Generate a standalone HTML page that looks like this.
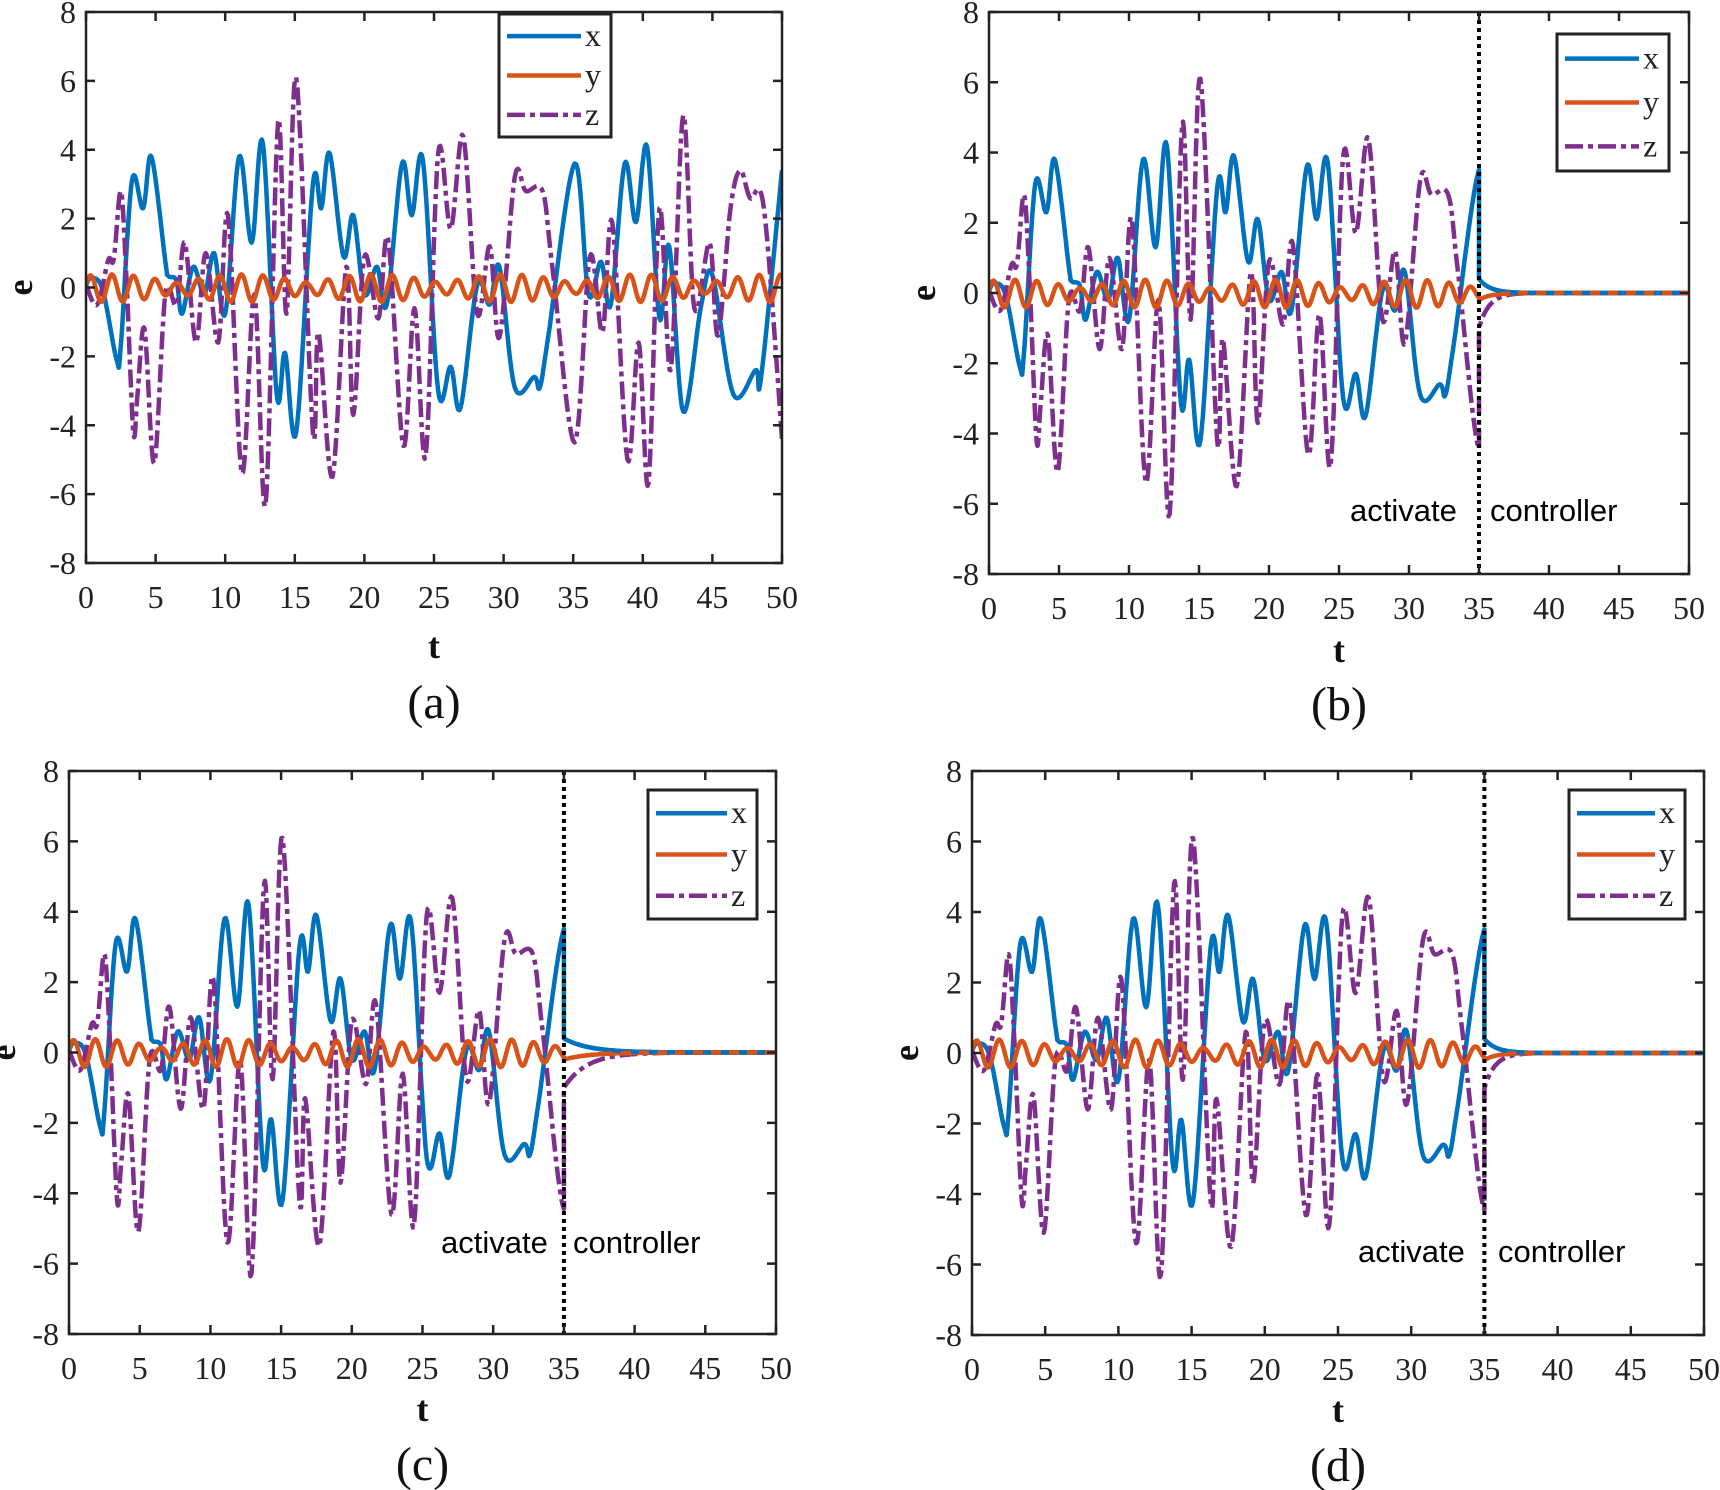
<!DOCTYPE html>
<html><head><meta charset="utf-8"><style>
html,body{margin:0;padding:0;background:#fff}
svg{display:block}
.tk{font-family:"Liberation Serif",serif;font-size:32px;fill:#222}
.lb{font-family:"Liberation Serif",serif;font-size:36px;font-weight:bold;fill:#111}
.cap{font-family:"Liberation Serif",serif;font-size:48px;fill:#111}
.an{font-family:"Liberation Sans",sans-serif;font-size:31px;fill:#000}
</style></head><body>
<svg id="s" width="1720" height="1490" xmlns="http://www.w3.org/2000/svg"></svg>
<script>
const X=[[0,0.07],[0.4,0.28],[1.2,-0.07],[2.2,-2.1],[2.5,-1.7],[3.3,3.1],[4.1,2.3],[4.7,3.8],[5.7,0.76],[5.9,0.34],[6.5,0.2],[6.9,-0.76],[7.7,0.6],[8.5,-0.2],[9.2,1.0],[10,-0.76],[11,3.8],[11.9,1.3],[12.7,4.2],[13.7,-3.1],[14.3,-1.9],[15.1,-4.2],[16.3,3.0],[16.9,2.3],[17.5,3.9],[18.5,0.9],[19.2,2.1],[20,-0.2],[20.9,0.6],[21.6,-0.5],[22.7,3.6],[23.4,2.1],[24.2,3.7],[25.3,-3.0],[26.2,-2.3],[26.9,-3.5],[28.1,0.07],[29,-0.5],[29.7,0.6],[30.8,-2.9],[32.2,-2.6],[32.6,-2.9],[33.2,-1.45],[35.1,3.6],[36.1,-0.2],[37,0.75],[37.7,-0.5],[38.7,3.6],[39.5,1.9],[40.3,4.1],[41.2,-0.9],[41.9,1.2],[42.9,-3.6],[44.2,-0.5],[45,0.35],[46.5,-3.1],[48.1,-2.4],[48.5,-2.6],[50,3.4]];
const Z=[[0,0.07],[0.8,-0.5],[1.6,0.8],[2,0.83],[2.5,2.8],[2.9,0.3],[3.4,-4.2],[3.7,-3.1],[4.2,-1.2],[4.9,-5.1],[5.7,-0.2],[6.5,-0.5],[7.1,1.3],[7.9,-1.6],[8.6,1.0],[9.5,-1.6],[10.2,2.1],[11.2,-5.4],[12.1,-0.2],[12.9,-6.3],[13.8,4.8],[14.4,-0.76],[15.1,6.1],[16.3,-4.2],[16.7,-1.3],[17.7,-5.5],[18.7,0.6],[19.2,-3.7],[20,0.9],[21,-0.9],[21.7,1.4],[22.8,-4.6],[23.6,-0.6],[24.4,-4.9],[25.3,3.9],[26.2,1.7],[27.1,4.4],[28.1,-0.76],[29,1.2],[29.7,-1.45],[30.8,3.2],[31.6,2.8],[32.8,2.8],[33.5,0.6],[35.1,-4.5],[36.2,0.9],[37.1,-1.3],[37.8,1.9],[38.9,-5.0],[39.7,-1.6],[40.4,-5.7],[41.2,2.3],[42,-2.4],[42.9,5.0],[43.7,-0.6],[44.8,1.3],[45.4,-1.4],[46.3,2.3],[47,3.4],[47.7,2.6],[48.7,2.3],[50,-4.4]];
function cr(P){const o=[];for(let i=0;i<P.length-1;i++){const p0=P[Math.max(i-1,0)],p1=P[i],p2=P[i+1],p3=P[Math.min(i+2,P.length-1)];for(let k=0;k<12;k++){const s=k/12,s2=s*s,s3=s2*s;const f=(a,b,c,d)=>0.5*(2*b+(-a+c)*s+(2*a-5*b+4*c-d)*s2+(-a+3*b-3*c+d)*s3);o.push([f(p0[0],p1[0],p2[0],p3[0]),f(p0[1],p1[1],p2[1],p3[1])]);}}o.push(P[P.length-1]);return o;}
const XS=cr(X),ZS=cr(Z);
const YS=[];for(let t=0;t<=50;t+=0.05){const a=0.15+0.25*Math.abs(Math.sin(t*0.33+1));YS.push([t,a*Math.sin(2*Math.PI*t/1.55+0.3)-0.02]);}
function at(S,t){for(let i=1;i<S.length;i++)if(S[i][0]>=t){const a=S[i-1],b=S[i];return a[1]+(b[1]-a[1])*(t-a[0])/(b[0]-a[0]||1);}return S[S.length-1][1];}
function ctrl(S,v0,tau){const o=S.filter(p=>p[0]<=35);o.push([35,at(S,35)]);for(let t=35;t<=50;t+=0.1)o.push([t,v0*Math.exp(-(t-35)/tau)]);return o;}
const svg=document.getElementById('s');let h='';
function panel(L,R,T,B,cap,ctrlOn,tau,leg,ann,tOff,cOff){
 const px=t=>L+(R-L)*t/50,py=v=>T+(B-T)*(8-v)/16;
 h+=`<defs><clipPath id="c${cap}"><rect x="${L}" y="${T}" width="${R-L}" height="${B-T}"/></clipPath></defs>`;
 let xs=XS,ys=YS,zs=ZS;
 if(ctrlOn){xs=ctrl(XS,0.4,tau);ys=ctrl(YS,-0.2,tau);zs=ctrl(ZS,-1.0,tau*0.9);}
 const pl=S=>S.map(p=>px(p[0]).toFixed(1)+','+py(p[1]).toFixed(1)).join(' ');
 h+=`<g clip-path="url(#c${cap})" fill="none" stroke-width="4.5" stroke-linejoin="round">`;
 h+=`<polyline points="${pl(xs)}" stroke="#0072BD"/>`;
 h+=`<polyline points="${pl(zs)}" stroke="#7E2F8E" stroke-dasharray="18,5,5,5"/>`;
 h+=`<polyline points="${pl(ys)}" stroke="#D95319"/>`;
 if(ctrlOn){h+=`<polyline points="${pl(xs.filter(p=>p[0]>36))}" stroke="#0072BD"/><polyline points="${pl(ys.filter(p=>p[0]>36.5))}" stroke="#D95319" stroke-dasharray="10,8"/>`;}
 h+='</g>';
 if(ctrlOn)h+=`<line x1="${px(35)}" y1="${T}" x2="${px(35)}" y2="${B}" stroke="#000" stroke-width="4" stroke-dasharray="4,4"/>`;
 h+=`<rect x="${L}" y="${T}" width="${R-L}" height="${B-T}" fill="none" stroke="#222" stroke-width="2.5"/>`;
 for(let t=0;t<=50;t+=5){const x=px(t);h+=`<line x1="${x}" y1="${B}" x2="${x}" y2="${B-9}" stroke="#222" stroke-width="2.5"/><line x1="${x}" y1="${T}" x2="${x}" y2="${T+9}" stroke="#222" stroke-width="2.5"/><text class="tk" x="${x}" y="${B+45}" text-anchor="middle">${t}</text>`;}
 for(let v=-8;v<=8;v+=2){const y=py(v);h+=`<line x1="${L}" y1="${y}" x2="${L+9}" y2="${y}" stroke="#222" stroke-width="2.5"/><line x1="${R}" y1="${y}" x2="${R-9}" y2="${y}" stroke="#222" stroke-width="2.5"/><text class="tk" x="${L-10}" y="${y+11}" text-anchor="end">${v}</text>`;}
 const cx=(L+R)/2,yl=(T+B)/2;
 h+=`<text class="lb" x="${L-66}" y="${yl}" text-anchor="middle" transform="rotate(-90 ${L-66} ${yl})" dy="12">e</text>`;
 h+=`<text class="lb" x="${cx}" y="${B+tOff}" text-anchor="middle">t</text>`;
 h+=`<text class="cap" x="${cx}" y="${B+cOff}" text-anchor="middle">(${cap})</text>`;
 const [lx,ly,lw,lh]=leg;
 h+=`<rect x="${lx}" y="${ly}" width="${lw}" height="${lh}" fill="#fff" stroke="#222" stroke-width="3"/>`;
 const rows=[['x','#0072BD',''],['y','#D95319',''],['z','#7E2F8E','18,5,5,5']];
 rows.forEach((r,i)=>{const yy=ly+lh*(0.18+0.32*i);h+=`<line x1="${lx+8}" y1="${yy}" x2="${lx+lw-30}" y2="${yy}" stroke="${r[1]}" stroke-width="4.5" ${r[2]?`stroke-dasharray="${r[2]}"`:''}/><text class="tk" x="${lx+lw-26}" y="${yy+10}">${r[0]}</text>`;});
 if(ann){h+=`<text class="an" x="${ann[0]}" y="${ann[2]}">activate</text><text class="an" x="${ann[1]}" y="${ann[2]}">controller</text>`;}
}
panel(86,782,12,563,'a',false,1,[499,14,112,123],null,95,155);
panel(989,1689,12,574,'b',true,0.8,[1557,34,112,137],[1350,1490,521],88,146);
panel(69,776,771,1334,'c',true,1.8,[648,790,109,129],[441,573,1253],87,146);
panel(972,1704,771,1335,'d',true,0.8,[1569,790,116,129],[1358,1498,1262],87,146);
svg.innerHTML=h;
</script>
</body></html>
